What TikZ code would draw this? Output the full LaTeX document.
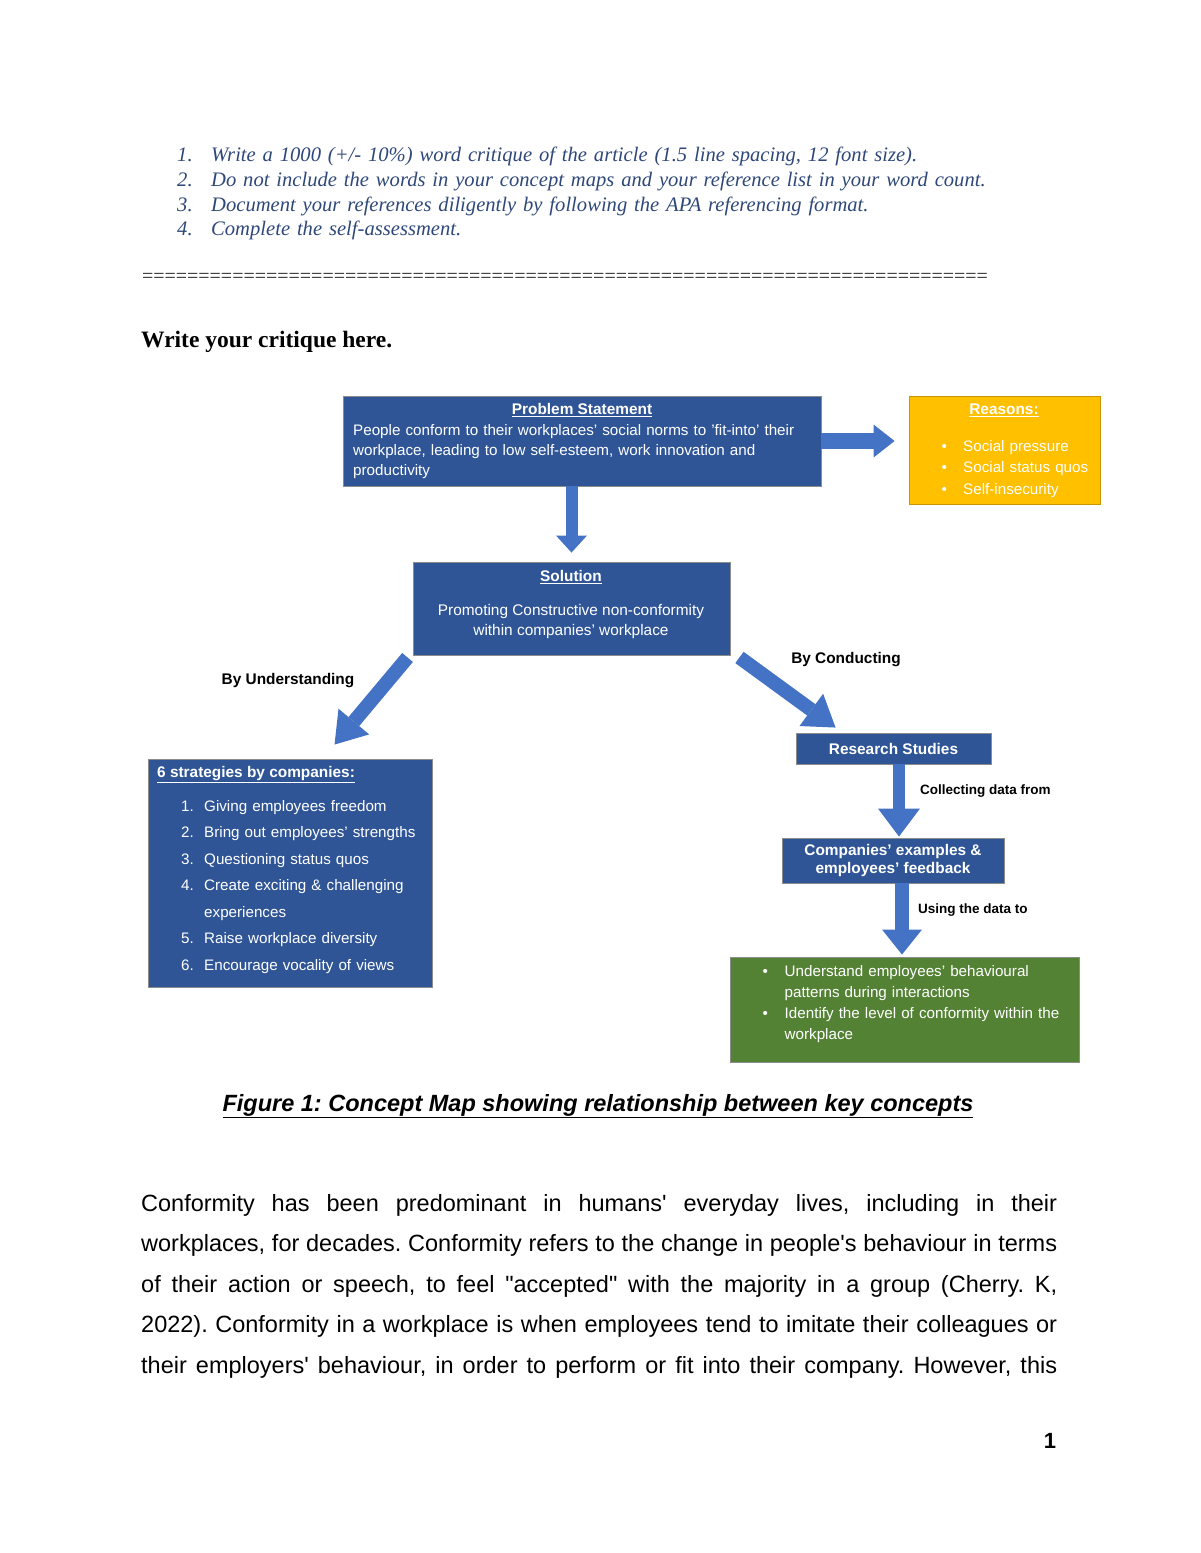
\documentclass[tikz,border=0pt]{standalone}
\usepackage{fontspec}
\setmainfont{Liberation Sans}
\newfontfamily\serif{Liberation Serif}
\usetikzlibrary{arrows.meta}
\definecolor{boxblue}{RGB}{47,85,151}
\definecolor{arrowblue}{RGB}{68,114,196}
\definecolor{gold}{RGB}{255,192,0}
\definecolor{golddark}{RGB}{200,150,0}
\definecolor{leaf}{RGB}{84,130,53}
\definecolor{instr}{RGB}{47,72,122}
\frenchspacing
\tikzset{
  box/.style={draw=black!45, line width=0.9pt, inner sep=0pt},
  bluebox/.style={box, fill=boxblue},
  wtext/.style={text=white, inner sep=0pt, font=\fontsize{15.2}{20}\selectfont},
  wbold/.style={text=white, inner sep=0pt, font=\bfseries\fontsize{15.4}{20}\selectfont},
  lbl/.style={text=black, inner sep=0pt, font=\bfseries\fontsize{15.4}{18}\selectfont},
  slbl/.style={text=black, inner sep=0pt, font=\bfseries\fontsize{13.5}{16}\selectfont},
  fatarrow/.style n args={3}{draw=arrowblue, line width=#1,
     -{Triangle[width=#2, length=#3, line width=0pt]}},
}
\begin{document}
\begin{tikzpicture}[x=1pt,y=-1pt]
\useasboundingbox[fill=white] (0,0) rectangle (1200,1553);

% instructions
\node[anchor=north west, inner sep=0pt, text=instr, text width=900pt, align=left,
      font=\serif\itshape\fontsize{20.6}{24.7}\selectfont] (instr) at (177,147)
  {\makebox[34pt][l]{1.}Write a 1000 (+/- 10\%) word critique of the article (1.5 line spacing, 12 font size).\\
   \makebox[34pt][l]{2.}Do not include the words in your concept maps and your reference list in your word count.\\
   \makebox[34pt][l]{3.}Document your references diligently by following the APA referencing format.\\
   \makebox[34pt][l]{4.}Complete the self-assessment.};

\node[inner sep=0pt, text=black!85, font=\serif\fontsize{20}{24}\selectfont] (eqline) at (565,278)
  {===========================================================================};

\node[anchor=west, inner sep=0pt, font=\serif\bfseries\fontsize{23.5}{26}\selectfont] (writehere) at (141,342)
  {Write your critique here.};

% boxes
\node[bluebox, minimum width=478pt, minimum height=90pt] (prob) at (582,441) {};
\node[box, draw=golddark, fill=gold, minimum width=191pt, minimum height=108pt] (reas) at (1004.5,450) {};
\node[bluebox, minimum width=317pt, minimum height=93pt] (sol) at (571.5,608.5) {};
\node[bluebox, minimum width=284pt, minimum height=228pt] (strat) at (290,873) {};
\node[bluebox, minimum width=195pt, minimum height=31pt] (rs) at (893.5,748.5) {};
\node[bluebox, minimum width=222pt, minimum height=45pt] (cf) at (893,860.5) {};
\node[box, fill=leaf, minimum width=349pt, minimum height=105pt] (gr) at (904.5,1009.5) {};

% problem statement text
\node[wbold] (probH) at (582,410) {\underline{Problem Statement}};
\node[wtext, anchor=north west, text width=465pt, align=left] (probB) at (353,424)
  {People conform to their workplaces' social norms to 'fit-into' their\\
   workplace, leading to low self-esteem, work innovation and\\
   productivity};

% reasons text
\node[wbold] (reasH) at (1004,410) {\underline{Reasons:}};
\node[wtext, anchor=north west, text width=170pt, align=left, font=\fontsize{15.2}{21.5}\selectfont] (reasB) at (941.5,440)
  {\makebox[21.5pt][l]{\textbullet}Social pressure\\
   \makebox[21.5pt][l]{\textbullet}Social status quos\\
   \makebox[21.5pt][l]{\textbullet}Self-insecurity};

% solution text
\node[wbold] (solH) at (571,577) {\underline{Solution}};
\node[wtext, align=center, font=\fontsize{15.4}{20}\selectfont] (solB) at (571,622)
  {Promoting Constructive non-conformity\\ within companies' workplace};

% strategies text
\node[wbold, anchor=west] (stratH) at (157,775) {\underline{6 strategies by companies:}};
\node[wtext, anchor=north west, text width=250pt, align=left, font=\fontsize{15.2}{26.5}\selectfont] (stratB) at (181,800)
  {\makebox[23pt][l]{1.}Giving employees freedom\\
   \makebox[23pt][l]{2.}Bring out employees' strengths\\
   \makebox[23pt][l]{3.}Questioning status quos\\
   \makebox[23pt][l]{4.}Create exciting \& challenging\\
   \hspace*{23pt}experiences\\
   \makebox[23pt][l]{5.}Raise workplace diversity\\
   \makebox[23pt][l]{6.}Encourage vocality of views};

% research / companies text
\node[wbold] (rsT) at (rs.center) {Research Studies};
\node[wbold, font=\bfseries\fontsize{15.4}{18}\selectfont, align=center] (cfT) at (cf.center)
  {Companies' examples \&\\ employees' feedback};

% green text
\node[wtext, anchor=north west, text width=330pt, align=left, font=\fontsize{15.2}{21}\selectfont] (grB) at (762.5,965)
  {\makebox[22pt][l]{\textbullet}Understand employees' behavioural\\
   \hspace*{22pt}patterns during interactions\\
   \makebox[22pt][l]{\textbullet}Identify the level of conformity within the\\
   \hspace*{22pt}workplace};

% labels
\node[lbl] (byU) at (288,681) {By Understanding};
\node[lbl] (byC) at (846,660) {By Conducting};
\node[slbl, anchor=west] (collect) at (920,791) {Collecting data from};
\node[slbl, anchor=west] (using) at (918,910) {Using the data to};

% arrows
\draw[fatarrow={16pt}{33pt}{21pt}] (prob.east) -- ([xshift=-14pt]reas.west |- prob.east);
\draw[fatarrow={12pt}{31pt}{17pt}] (prob.south -| sol.north) -- ([yshift=9pt]sol.north);
\draw[fatarrow={14pt}{40pt}{30pt}] ([xshift=-5pt,yshift=-2pt]sol.south west) -- ([xshift=187pt,yshift=14pt]strat.north west);
\draw[fatarrow={14pt}{40pt}{30pt}] ([xshift=9pt,yshift=-2pt]sol.south east) -- ([xshift=40pt,yshift=5pt]rs.north west);
\draw[fatarrow={12pt}{42pt}{28pt}] ([xshift=5.5pt]rs.south) -- ([xshift=5.5pt,yshift=1pt]rs.south |- cf.north);
\draw[fatarrow={14pt}{40pt}{25pt}] ([xshift=9pt]cf.south) -- ([xshift=9pt,yshift=2pt]cf.south |- gr.north);

% caption
\node[inner sep=0pt, font=\bfseries\itshape\fontsize{23.5}{26}\selectfont] (caption) at (598,1106)
  {\underline{Figure 1: Concept Map showing relationship between key concepts}};

% body text
\node[anchor=north west, inner sep=0pt, font=\fontsize{23.5}{40.5}\selectfont] (body) at (141,1194)
  {\vbox{\hsize=916pt \baselineskip=40.5pt \spaceskip=0.278em plus 1em minus 0.2em
   \hbox to \hsize{Conformity has been predominant in humans\textquotesingle{} everyday lives, including in their}
   \hbox to \hsize{workplaces, for decades. Conformity refers to the change in people\textquotesingle s behaviour in terms}
   \hbox to \hsize{of their action or speech, to feel \textquotedbl accepted\textquotedbl{} with the majority in a group (Cherry. K,}
   \hbox to \hsize{2022). Conformity in a workplace is when employees tend to imitate their colleagues or}
   \hbox to \hsize{their employers\textquotesingle{} behaviour, in order to perform or fit into their company. However, this}}};

\node[inner sep=0pt, font=\bfseries\fontsize{22}{24}\selectfont] (pagenum) at (1050,1441) {1};
\end{tikzpicture}
\end{document}
